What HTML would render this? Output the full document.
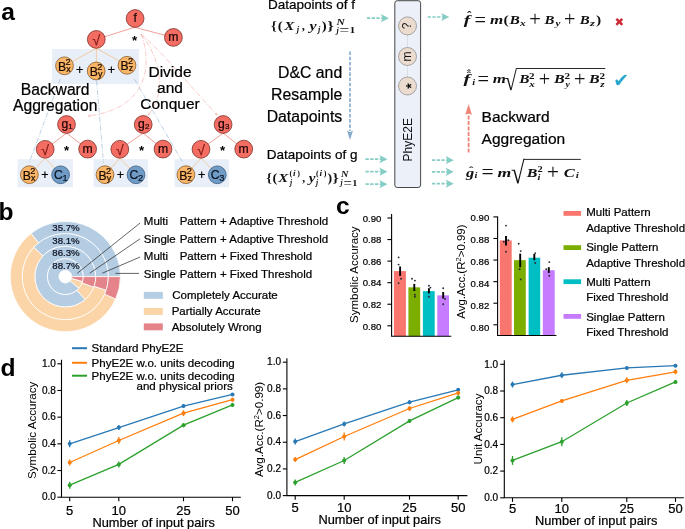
<!DOCTYPE html><html><head><meta charset="utf-8"><title>figure</title><style>html,body{margin:0;padding:0;background:#fff}svg{display:block}text{stroke-width:0.22px}</style></head><body><svg width="685" height="529" viewBox="0 0 685 529">
<rect width="685" height="529" fill="#fff"/>
<defs>
<marker id="aR" viewBox="0 0 10 10" refX="8" refY="5" markerWidth="5" markerHeight="5" orient="auto"><path d="M0,1 L9,5 L0,9" fill="none" stroke="#f08a7e" stroke-width="1.2"/></marker>
</defs>
<text x="1.3" y="19.7" font-family='"Liberation Sans", sans-serif' font-size="24.6" text-anchor="start" font-weight="bold" font-style="normal" fill="#000" stroke="none" >a</text>
<text x="-1.4" y="220.2" font-family='"Liberation Sans", sans-serif' font-size="24.6" text-anchor="start" font-weight="bold" font-style="normal" fill="#000" stroke="none" >b</text>
<text x="336" y="214.2" font-family='"Liberation Sans", sans-serif' font-size="24.6" text-anchor="start" font-weight="bold" font-style="normal" fill="#000" stroke="none" >c</text>
<text x="0.5" y="376" font-family='"Liberation Sans", sans-serif' font-size="24.6" text-anchor="start" font-weight="bold" font-style="normal" fill="#000" stroke="none" >d</text>
<rect x="52" y="49" width="87" height="35" fill="#e9eff8"/>
<rect x="17.5" y="159.2" width="55.4" height="28" fill="#e9eff8"/>
<rect x="93.5" y="159.2" width="54.5" height="28" fill="#e9eff8"/>
<rect x="174.5" y="159.2" width="54.5" height="28" fill="#e9eff8"/>
<line x1="60.3" y1="79" x2="29" y2="163" stroke="#8fb2d3" stroke-width="0.6" stroke-dasharray="5 1.5 1 1.5"/>
<line x1="96.6" y1="81" x2="103.5" y2="163" stroke="#8fb2d3" stroke-width="0.6" stroke-dasharray="5 1.5 1 1.5"/>
<line x1="134.5" y1="79.2" x2="183" y2="163" stroke="#8fb2d3" stroke-width="0.6" stroke-dasharray="5 1.5 1 1.5"/>
<path d="M141,34 C152,62 150,108 88.5,116" fill="none" stroke="#f3a89f" stroke-width="0.6" stroke-dasharray="5 1.5 1 1.5" marker-end="url(#aR)"/>
<path d="M141,34 C162,60 166,95 148,115" fill="none" stroke="#f3a89f" stroke-width="0.6" stroke-dasharray="5 1.5 1 1.5" marker-end="url(#aR)"/>
<path d="M141,34 C160,50 185,80 217,115" fill="none" stroke="#f3a89f" stroke-width="0.6" stroke-dasharray="5 1.5 1 1.5" marker-end="url(#aR)"/>
<line x1="134.6" y1="27.3" x2="96.3" y2="39.4" stroke="#f08a7e" stroke-width="0.8"/>
<line x1="134.6" y1="27.3" x2="173.4" y2="37.4" stroke="#f08a7e" stroke-width="0.8"/>
<line x1="96.4" y1="48.3" x2="64.5" y2="65.8" stroke="#f3c08c" stroke-width="0.8"/>
<line x1="96.4" y1="48.3" x2="96.2" y2="71" stroke="#f3c08c" stroke-width="0.8"/>
<line x1="96.4" y1="48.3" x2="127" y2="65.3" stroke="#f3c08c" stroke-width="0.8"/>
<line x1="66.5" y1="133.2" x2="45.2" y2="149.3" stroke="#f08a7e" stroke-width="0.8"/>
<line x1="66.5" y1="133.2" x2="87.6" y2="149.1" stroke="#f08a7e" stroke-width="0.8"/>
<line x1="45.2" y1="158.2" x2="29.4" y2="174.7" stroke="#f3c08c" stroke-width="0.8"/>
<line x1="45.2" y1="158.2" x2="60.6" y2="174.8" stroke="#f3c08c" stroke-width="0.8"/>
<line x1="143.2" y1="133.2" x2="119.8" y2="149.3" stroke="#f08a7e" stroke-width="0.8"/>
<line x1="143.2" y1="133.2" x2="163" y2="149.1" stroke="#f08a7e" stroke-width="0.8"/>
<line x1="119.8" y1="158.2" x2="105" y2="174.7" stroke="#f3c08c" stroke-width="0.8"/>
<line x1="119.8" y1="158.2" x2="136" y2="174.8" stroke="#f3c08c" stroke-width="0.8"/>
<line x1="223.1" y1="133.2" x2="201" y2="149.3" stroke="#f08a7e" stroke-width="0.8"/>
<line x1="223.1" y1="133.2" x2="243.7" y2="149.1" stroke="#f08a7e" stroke-width="0.8"/>
<line x1="201" y1="158.2" x2="185.9" y2="174.7" stroke="#f3c08c" stroke-width="0.8"/>
<line x1="201" y1="158.2" x2="217.3" y2="174.8" stroke="#f3c08c" stroke-width="0.8"/>
<circle cx="135.1" cy="18.5" r="8.9" fill="#f46d62" stroke="#6b2019" stroke-width="0.7"/>
<text x="135.1" y="22.3" font-family='"Liberation Sans", sans-serif' font-size="12.2" text-anchor="middle" font-weight="normal" font-style="normal" fill="#1a0505" stroke="#1a0505" >f</text>
<circle cx="96.3" cy="39.4" r="8.9" fill="#f46d62" stroke="#6b2019" stroke-width="0.7"/>
<text x="96.3" y="45.0" font-family='"Liberation Sans", sans-serif' font-size="14" text-anchor="middle" font-weight="normal" font-style="normal" fill="#7a1512" stroke="#7a1512" >√</text>
<circle cx="173.4" cy="37.4" r="8.9" fill="#f46d62" stroke="#6b2019" stroke-width="0.7"/>
<text x="173.4" y="41.199999999999996" font-family='"Liberation Sans", sans-serif' font-size="12.2" text-anchor="middle" font-weight="normal" font-style="normal" fill="#1a0505" stroke="#1a0505" >m</text>
<text x="134.6" y="44.9" font-family='"Liberation Sans", sans-serif' font-size="13.2" text-anchor="middle" font-weight="bold" font-style="normal" fill="#000" stroke="none" >*</text>
<circle cx="64.5" cy="65.8" r="8.9" fill="#f9b668" stroke="#7a4a1a" stroke-width="0.7"/>
<text x="62.0" y="70.8" font-family='"Liberation Sans", sans-serif' font-size="12.2" text-anchor="middle" font-weight="normal" font-style="normal" fill="#1a0a00" stroke="#1a0a00" >B</text>
<text x="68.0" y="64.7" font-family='"Liberation Sans", sans-serif' font-size="9.2" text-anchor="middle" font-weight="normal" font-style="normal" fill="#1a0a00" stroke="#1a0a00" >2</text>
<text x="68.4" y="71.7" font-family='"Liberation Sans", sans-serif' font-size="8.8" text-anchor="middle" font-weight="normal" font-style="normal" fill="#1a0a00" stroke="#1a0a00" >x</text>
<circle cx="96.2" cy="71" r="8.9" fill="#f9b668" stroke="#7a4a1a" stroke-width="0.7"/>
<text x="93.7" y="76.0" font-family='"Liberation Sans", sans-serif' font-size="12.2" text-anchor="middle" font-weight="normal" font-style="normal" fill="#1a0a00" stroke="#1a0a00" >B</text>
<text x="99.7" y="69.9" font-family='"Liberation Sans", sans-serif' font-size="9.2" text-anchor="middle" font-weight="normal" font-style="normal" fill="#1a0a00" stroke="#1a0a00" >2</text>
<text x="100.10000000000001" y="76.9" font-family='"Liberation Sans", sans-serif' font-size="8.8" text-anchor="middle" font-weight="normal" font-style="normal" fill="#1a0a00" stroke="#1a0a00" >y</text>
<circle cx="127" cy="65.3" r="8.9" fill="#f9b668" stroke="#7a4a1a" stroke-width="0.7"/>
<text x="124.5" y="70.3" font-family='"Liberation Sans", sans-serif' font-size="12.2" text-anchor="middle" font-weight="normal" font-style="normal" fill="#1a0a00" stroke="#1a0a00" >B</text>
<text x="130.5" y="64.2" font-family='"Liberation Sans", sans-serif' font-size="9.2" text-anchor="middle" font-weight="normal" font-style="normal" fill="#1a0a00" stroke="#1a0a00" >2</text>
<text x="130.9" y="71.2" font-family='"Liberation Sans", sans-serif' font-size="8.8" text-anchor="middle" font-weight="normal" font-style="normal" fill="#1a0a00" stroke="#1a0a00" >z</text>
<text x="79.6" y="73.9" font-family='"Liberation Sans", sans-serif' font-size="12.5" text-anchor="middle" font-weight="normal" font-style="normal" fill="#000" stroke="#000" >+</text>
<text x="111.5" y="73.9" font-family='"Liberation Sans", sans-serif' font-size="12.5" text-anchor="middle" font-weight="normal" font-style="normal" fill="#000" stroke="#000" >+</text>
<circle cx="66.5" cy="124.5" r="8.9" fill="#f46d62" stroke="#6b2019" stroke-width="0.7"/>
<text x="64.8" y="127.8" font-family='"Liberation Sans", sans-serif' font-size="12.2" text-anchor="middle" font-weight="normal" font-style="normal" fill="#1a0505" stroke="#1a0505" >g</text>
<text x="70.6" y="129.1" font-family='"Liberation Sans", sans-serif' font-size="8" text-anchor="middle" font-weight="normal" font-style="normal" fill="#1a0505" stroke="#1a0505" >1</text>
<circle cx="45.2" cy="149.3" r="8.9" fill="#f46d62" stroke="#6b2019" stroke-width="0.7"/>
<text x="45.2" y="154.9" font-family='"Liberation Sans", sans-serif' font-size="14" text-anchor="middle" font-weight="normal" font-style="normal" fill="#7a1512" stroke="#7a1512" >√</text>
<circle cx="87.6" cy="149.1" r="8.9" fill="#f46d62" stroke="#6b2019" stroke-width="0.7"/>
<text x="87.6" y="152.9" font-family='"Liberation Sans", sans-serif' font-size="12.2" text-anchor="middle" font-weight="normal" font-style="normal" fill="#1a0505" stroke="#1a0505" >m</text>
<text x="66.60000000000001" y="155.4" font-family='"Liberation Sans", sans-serif' font-size="13.2" text-anchor="middle" font-weight="bold" font-style="normal" fill="#000" stroke="none" >*</text>
<circle cx="29.4" cy="174.7" r="8.9" fill="#f9b668" stroke="#7a4a1a" stroke-width="0.7"/>
<text x="26.9" y="179.7" font-family='"Liberation Sans", sans-serif' font-size="12.2" text-anchor="middle" font-weight="normal" font-style="normal" fill="#1a0a00" stroke="#1a0a00" >B</text>
<text x="32.9" y="173.6" font-family='"Liberation Sans", sans-serif' font-size="9.2" text-anchor="middle" font-weight="normal" font-style="normal" fill="#1a0a00" stroke="#1a0a00" >2</text>
<text x="33.3" y="180.6" font-family='"Liberation Sans", sans-serif' font-size="8.8" text-anchor="middle" font-weight="normal" font-style="normal" fill="#1a0a00" stroke="#1a0a00" >x</text>
<circle cx="60.6" cy="174.8" r="8.9" fill="#6f9bc4" stroke="#2c4f73" stroke-width="0.7"/>
<text x="58.4" y="178.9" font-family='"Liberation Sans", sans-serif' font-size="12.2" text-anchor="middle" font-weight="normal" font-style="normal" fill="#0a1525" stroke="#0a1525" >C</text>
<text x="65.2" y="181.10000000000002" font-family='"Liberation Sans", sans-serif' font-size="9.3" text-anchor="middle" font-weight="normal" font-style="normal" fill="#0a1525" stroke="#0a1525" >1</text>
<text x="45.0" y="179" font-family='"Liberation Sans", sans-serif' font-size="12.5" text-anchor="middle" font-weight="normal" font-style="normal" fill="#000" stroke="#000" >+</text>
<circle cx="143.2" cy="124.5" r="8.9" fill="#f46d62" stroke="#6b2019" stroke-width="0.7"/>
<text x="141.5" y="127.8" font-family='"Liberation Sans", sans-serif' font-size="12.2" text-anchor="middle" font-weight="normal" font-style="normal" fill="#1a0505" stroke="#1a0505" >g</text>
<text x="147.29999999999998" y="129.1" font-family='"Liberation Sans", sans-serif' font-size="8" text-anchor="middle" font-weight="normal" font-style="normal" fill="#1a0505" stroke="#1a0505" >2</text>
<circle cx="119.8" cy="149.3" r="8.9" fill="#f46d62" stroke="#6b2019" stroke-width="0.7"/>
<text x="119.8" y="154.9" font-family='"Liberation Sans", sans-serif' font-size="14" text-anchor="middle" font-weight="normal" font-style="normal" fill="#7a1512" stroke="#7a1512" >√</text>
<circle cx="163" cy="149.1" r="8.9" fill="#f46d62" stroke="#6b2019" stroke-width="0.7"/>
<text x="163" y="152.9" font-family='"Liberation Sans", sans-serif' font-size="12.2" text-anchor="middle" font-weight="normal" font-style="normal" fill="#1a0505" stroke="#1a0505" >m</text>
<text x="141.6" y="155.4" font-family='"Liberation Sans", sans-serif' font-size="13.2" text-anchor="middle" font-weight="bold" font-style="normal" fill="#000" stroke="none" >*</text>
<circle cx="105" cy="174.7" r="8.9" fill="#f9b668" stroke="#7a4a1a" stroke-width="0.7"/>
<text x="102.5" y="179.7" font-family='"Liberation Sans", sans-serif' font-size="12.2" text-anchor="middle" font-weight="normal" font-style="normal" fill="#1a0a00" stroke="#1a0a00" >B</text>
<text x="108.5" y="173.6" font-family='"Liberation Sans", sans-serif' font-size="9.2" text-anchor="middle" font-weight="normal" font-style="normal" fill="#1a0a00" stroke="#1a0a00" >2</text>
<text x="108.9" y="180.6" font-family='"Liberation Sans", sans-serif' font-size="8.8" text-anchor="middle" font-weight="normal" font-style="normal" fill="#1a0a00" stroke="#1a0a00" >y</text>
<circle cx="136" cy="174.8" r="8.9" fill="#6f9bc4" stroke="#2c4f73" stroke-width="0.7"/>
<text x="133.8" y="178.9" font-family='"Liberation Sans", sans-serif' font-size="12.2" text-anchor="middle" font-weight="normal" font-style="normal" fill="#0a1525" stroke="#0a1525" >C</text>
<text x="140.6" y="181.10000000000002" font-family='"Liberation Sans", sans-serif' font-size="9.3" text-anchor="middle" font-weight="normal" font-style="normal" fill="#0a1525" stroke="#0a1525" >2</text>
<text x="120.5" y="179" font-family='"Liberation Sans", sans-serif' font-size="12.5" text-anchor="middle" font-weight="normal" font-style="normal" fill="#000" stroke="#000" >+</text>
<circle cx="223.1" cy="124.5" r="8.9" fill="#f46d62" stroke="#6b2019" stroke-width="0.7"/>
<text x="221.4" y="127.8" font-family='"Liberation Sans", sans-serif' font-size="12.2" text-anchor="middle" font-weight="normal" font-style="normal" fill="#1a0505" stroke="#1a0505" >g</text>
<text x="227.2" y="129.1" font-family='"Liberation Sans", sans-serif' font-size="8" text-anchor="middle" font-weight="normal" font-style="normal" fill="#1a0505" stroke="#1a0505" >3</text>
<circle cx="201" cy="149.3" r="8.9" fill="#f46d62" stroke="#6b2019" stroke-width="0.7"/>
<text x="201" y="154.9" font-family='"Liberation Sans", sans-serif' font-size="14" text-anchor="middle" font-weight="normal" font-style="normal" fill="#7a1512" stroke="#7a1512" >√</text>
<circle cx="243.7" cy="149.1" r="8.9" fill="#f46d62" stroke="#6b2019" stroke-width="0.7"/>
<text x="243.7" y="152.9" font-family='"Liberation Sans", sans-serif' font-size="12.2" text-anchor="middle" font-weight="normal" font-style="normal" fill="#1a0505" stroke="#1a0505" >m</text>
<text x="222.54999999999998" y="155.4" font-family='"Liberation Sans", sans-serif' font-size="13.2" text-anchor="middle" font-weight="bold" font-style="normal" fill="#000" stroke="none" >*</text>
<circle cx="185.9" cy="174.7" r="8.9" fill="#f9b668" stroke="#7a4a1a" stroke-width="0.7"/>
<text x="183.4" y="179.7" font-family='"Liberation Sans", sans-serif' font-size="12.2" text-anchor="middle" font-weight="normal" font-style="normal" fill="#1a0a00" stroke="#1a0a00" >B</text>
<text x="189.4" y="173.6" font-family='"Liberation Sans", sans-serif' font-size="9.2" text-anchor="middle" font-weight="normal" font-style="normal" fill="#1a0a00" stroke="#1a0a00" >2</text>
<text x="189.8" y="180.6" font-family='"Liberation Sans", sans-serif' font-size="8.8" text-anchor="middle" font-weight="normal" font-style="normal" fill="#1a0a00" stroke="#1a0a00" >z</text>
<circle cx="217.3" cy="174.8" r="8.9" fill="#6f9bc4" stroke="#2c4f73" stroke-width="0.7"/>
<text x="215.10000000000002" y="178.9" font-family='"Liberation Sans", sans-serif' font-size="12.2" text-anchor="middle" font-weight="normal" font-style="normal" fill="#0a1525" stroke="#0a1525" >C</text>
<text x="221.9" y="181.10000000000002" font-family='"Liberation Sans", sans-serif' font-size="9.3" text-anchor="middle" font-weight="normal" font-style="normal" fill="#0a1525" stroke="#0a1525" >3</text>
<text x="201.60000000000002" y="179" font-family='"Liberation Sans", sans-serif' font-size="12.5" text-anchor="middle" font-weight="normal" font-style="normal" fill="#000" stroke="#000" >+</text>
<text x="55.2" y="95" font-family='"Liberation Sans", sans-serif' font-size="15.65" text-anchor="middle" font-weight="normal" font-style="normal" fill="#000" stroke="#000" >Backward</text>
<text x="55.2" y="110.8" font-family='"Liberation Sans", sans-serif' font-size="15.65" text-anchor="middle" font-weight="normal" font-style="normal" fill="#000" stroke="#000" >Aggregation</text>
<text x="170" y="76.7" font-family='"Liberation Sans", sans-serif' font-size="15.5" text-anchor="middle" font-weight="normal" font-style="normal" fill="#000" stroke="#000" >Divide</text>
<text x="170" y="92.7" font-family='"Liberation Sans", sans-serif' font-size="15.5" text-anchor="middle" font-weight="normal" font-style="normal" fill="#000" stroke="#000" >and</text>
<text x="170" y="108.8" font-family='"Liberation Sans", sans-serif' font-size="15.5" text-anchor="middle" font-weight="normal" font-style="normal" fill="#000" stroke="#000" >Conquer</text>
<text x="268" y="9.3" font-family='"Liberation Sans", sans-serif' font-size="13.5" text-anchor="start" font-weight="normal" font-style="normal" fill="#000" stroke="#000" >Datapoints of f</text>
<text x="342.2" y="78.3" font-family='"Liberation Sans", sans-serif' font-size="15.8" text-anchor="end" font-weight="normal" font-style="normal" fill="#000" stroke="#000" >D&amp;C and</text>
<text x="342.2" y="99.8" font-family='"Liberation Sans", sans-serif' font-size="15.8" text-anchor="end" font-weight="normal" font-style="normal" fill="#000" stroke="#000" >Resample</text>
<text x="342.2" y="121.9" font-family='"Liberation Sans", sans-serif' font-size="15.8" text-anchor="end" font-weight="normal" font-style="normal" fill="#000" stroke="#000" >Datapoints</text>
<text x="266.8" y="159" font-family='"Liberation Sans", sans-serif' font-size="13.5" text-anchor="start" font-weight="normal" font-style="normal" fill="#000" stroke="#000" >Datapoints of g</text>
<text transform="translate(271.03,29.7) scale(1.120,1.0)" font-family='"Liberation Serif", serif' font-size="13" font-weight="bold" font-style="normal" fill="#111">{</text>
<text transform="translate(277.75,29.7) scale(1.138,1.0)" font-family='"Liberation Serif", serif' font-size="13" font-weight="bold" font-style="normal" fill="#111">(</text>
<text transform="translate(284.28,29.7) scale(1.165,1.0)" font-family='"Liberation Serif", serif' font-size="13" font-weight="bold" font-style="italic" fill="#111">X</text>
<text transform="translate(296.71,31.6) scale(1.000,1.0)" font-family='"Liberation Serif", serif' font-size="8.5" font-weight="bold" font-style="italic" fill="#111">j</text>
<text transform="translate(301.83,29.7) scale(0.968,1.0)" font-family='"Liberation Serif", serif' font-size="13" font-weight="bold" font-style="normal" fill="#111">,</text>
<text transform="translate(309.59,29.7) scale(1.224,1.0)" font-family='"Liberation Serif", serif' font-size="13" font-weight="bold" font-style="italic" fill="#111">y</text>
<text transform="translate(318.01,31.6) scale(1.000,1.0)" font-family='"Liberation Serif", serif' font-size="8.5" font-weight="bold" font-style="italic" fill="#111">j</text>
<text transform="translate(321.72,29.7) scale(1.138,1.0)" font-family='"Liberation Serif", serif' font-size="13" font-weight="bold" font-style="normal" fill="#111">)</text>
<text transform="translate(327.25,29.7) scale(1.287,1.0)" font-family='"Liberation Serif", serif' font-size="13" font-weight="bold" font-style="normal" fill="#111">}</text>
<text transform="translate(336.61,24.6) scale(1.345,1.0)" font-family='"Liberation Serif", serif' font-size="8.5" font-weight="bold" font-style="italic" fill="#111">N</text>
<text transform="translate(336.38,32.8) scale(0.972,1.0)" font-family='"Liberation Serif", serif' font-size="8.5" font-weight="bold" font-style="italic" fill="#111">j</text>
<text transform="translate(339.44,35.4) scale(1.228,1.0)" font-family='"Liberation Serif", serif' font-size="14" font-weight="normal" font-style="normal" fill="#111">=</text>
<text transform="translate(349.46,33.2) scale(1.374,1.0)" font-family='"Liberation Serif", serif' font-size="8.5" font-weight="bold" font-style="normal" fill="#111">1</text>
<text transform="translate(266.14,182.4) scale(1.096,1.0)" font-family='"Liberation Serif", serif' font-size="13" font-weight="bold" font-style="normal" fill="#111">{</text>
<text transform="translate(272.47,182.4) scale(1.108,1.0)" font-family='"Liberation Serif", serif' font-size="13" font-weight="bold" font-style="normal" fill="#111">(</text>
<text transform="translate(278.18,182.4) scale(1.155,1.0)" font-family='"Liberation Serif", serif' font-size="13" font-weight="bold" font-style="italic" fill="#111">X</text>
<text transform="translate(289.54,175.6) scale(1.090,1.0)" font-family='"Liberation Serif", serif' font-size="7.5" font-weight="bold" font-style="normal" fill="#111">(</text>
<text transform="translate(293.06,175.6) scale(1.236,1.0)" font-family='"Liberation Serif", serif' font-size="7.5" font-weight="bold" font-style="italic" fill="#111">i</text>
<text transform="translate(297.14,175.6) scale(1.090,1.0)" font-family='"Liberation Serif", serif' font-size="7.5" font-weight="bold" font-style="normal" fill="#111">)</text>
<text transform="translate(289.92,185.2) scale(0.915,1.0)" font-family='"Liberation Serif", serif' font-size="8.5" font-weight="bold" font-style="italic" fill="#111">j</text>
<text transform="translate(302.15,182.4) scale(0.890,1.0)" font-family='"Liberation Serif", serif' font-size="13" font-weight="bold" font-style="normal" fill="#111">,</text>
<text transform="translate(308.72,182.4) scale(1.167,1.0)" font-family='"Liberation Serif", serif' font-size="13" font-weight="bold" font-style="italic" fill="#111">y</text>
<text transform="translate(316.04,175.6) scale(1.090,1.0)" font-family='"Liberation Serif", serif' font-size="7.5" font-weight="bold" font-style="normal" fill="#111">(</text>
<text transform="translate(319.56,175.6) scale(1.236,1.0)" font-family='"Liberation Serif", serif' font-size="7.5" font-weight="bold" font-style="italic" fill="#111">i</text>
<text transform="translate(323.64,175.6) scale(1.090,1.0)" font-family='"Liberation Serif", serif' font-size="7.5" font-weight="bold" font-style="normal" fill="#111">)</text>
<text transform="translate(316.02,185.2) scale(0.915,1.0)" font-family='"Liberation Serif", serif' font-size="8.5" font-weight="bold" font-style="italic" fill="#111">j</text>
<text transform="translate(327.45,182.4) scale(1.078,1.0)" font-family='"Liberation Serif", serif' font-size="13" font-weight="bold" font-style="normal" fill="#111">)</text>
<text transform="translate(332.38,182.4) scale(1.216,1.0)" font-family='"Liberation Serif", serif' font-size="13" font-weight="bold" font-style="normal" fill="#111">}</text>
<text transform="translate(341.10,176.6) scale(1.205,1.0)" font-family='"Liberation Serif", serif' font-size="8.5" font-weight="bold" font-style="italic" fill="#111">N</text>
<text transform="translate(340.62,185.4) scale(0.915,1.0)" font-family='"Liberation Serif", serif' font-size="8.5" font-weight="bold" font-style="italic" fill="#111">j</text>
<text transform="translate(343.56,188.1) scale(1.059,1.0)" font-family='"Liberation Serif", serif' font-size="14" font-weight="normal" font-style="normal" fill="#111">=</text>
<text transform="translate(352.17,185.8) scale(1.214,1.0)" font-family='"Liberation Serif", serif' font-size="8.5" font-weight="bold" font-style="normal" fill="#111">1</text>
<line x1="367" y1="18.2" x2="383.4" y2="18.2" stroke="#86cdc5" stroke-width="1.7" stroke-dasharray="3.3 1.4"/>
<path d="M380.79999999999995,14.1 L388.9,18.2 L380.79999999999995,22.299999999999997 L382.59999999999997,18.2 Z" fill="#86cdc5"/>
<line x1="365.5" y1="159.2" x2="382.0" y2="159.2" stroke="#86cdc5" stroke-width="1.7" stroke-dasharray="3.3 1.4"/>
<path d="M379.4,155.1 L387.5,159.2 L379.4,163.29999999999998 L381.2,159.2 Z" fill="#86cdc5"/>
<line x1="365.5" y1="171.7" x2="382.0" y2="171.7" stroke="#86cdc5" stroke-width="1.7" stroke-dasharray="3.3 1.4"/>
<path d="M379.4,167.6 L387.5,171.7 L379.4,175.79999999999998 L381.2,171.7 Z" fill="#86cdc5"/>
<line x1="365.5" y1="184.2" x2="382.0" y2="184.2" stroke="#86cdc5" stroke-width="1.7" stroke-dasharray="3.3 1.4"/>
<path d="M379.4,180.1 L387.5,184.2 L379.4,188.29999999999998 L381.2,184.2 Z" fill="#86cdc5"/>
<line x1="427.7" y1="17" x2="443.8" y2="17" stroke="#86cdc5" stroke-width="1.7" stroke-dasharray="3.3 1.4"/>
<path d="M441.2,12.9 L449.3,17 L441.2,21.1 L443.0,17 Z" fill="#86cdc5"/>
<line x1="432" y1="160.2" x2="448.3" y2="160.2" stroke="#86cdc5" stroke-width="1.7" stroke-dasharray="3.3 1.4"/>
<path d="M445.7,156.1 L453.8,160.2 L445.7,164.29999999999998 L447.5,160.2 Z" fill="#86cdc5"/>
<line x1="432" y1="171.8" x2="448.3" y2="171.8" stroke="#86cdc5" stroke-width="1.7" stroke-dasharray="3.3 1.4"/>
<path d="M445.7,167.70000000000002 L453.8,171.8 L445.7,175.9 L447.5,171.8 Z" fill="#86cdc5"/>
<line x1="432" y1="183.7" x2="448.3" y2="183.7" stroke="#86cdc5" stroke-width="1.7" stroke-dasharray="3.3 1.4"/>
<path d="M445.7,179.6 L453.8,183.7 L445.7,187.79999999999998 L447.5,183.7 Z" fill="#86cdc5"/>
<line x1="350" y1="51.5" x2="350" y2="131" stroke="#84a9cd" stroke-width="1.6" stroke-dasharray="3.6 1.6"/>
<path d="M347,130.5 L350,140 L353,130.5 L350,132.3 Z" fill="#84a9cd"/>
<rect x="394.8" y="0.7" width="25.8" height="186.8" rx="2.5" fill="#ebf0f9" stroke="#333" stroke-width="0.9"/>
<line x1="407.5" y1="26" x2="407.5" y2="86" stroke="#ccc" stroke-width="0.5"/>
<circle cx="407.5" cy="25.9" r="9" fill="#ecdcd0" stroke="#777" stroke-width="0.6"/>
<text transform="translate(410.7,25.9) rotate(-90)" font-family='"Liberation Sans", sans-serif' font-size="12" font-weight="normal" text-anchor="middle" fill="#111">?</text>
<circle cx="407.5" cy="56.5" r="9" fill="#ecdcd0" stroke="#777" stroke-width="0.6"/>
<text transform="translate(410.7,56.5) rotate(-90)" font-family='"Liberation Sans", sans-serif' font-size="12" font-weight="normal" text-anchor="middle" fill="#111">m</text>
<circle cx="407.5" cy="86" r="9" fill="#ecdcd0" stroke="#777" stroke-width="0.6"/>
<text transform="translate(415.5,86) rotate(-90)" font-family='"Liberation Sans", sans-serif' font-size="14" font-weight="bold" text-anchor="middle" fill="#111">*</text>
<text transform="translate(411.7,139.8) rotate(-90)" font-family='"Liberation Sans", sans-serif' font-size="12" text-anchor="middle" fill="#111">PhyE2E</text>
<text transform="translate(463.80,24) scale(1.498,1.0)" font-family='"Liberation Serif", serif' font-size="13" font-weight="bold" font-style="italic" fill="#111">f</text>
<text transform="translate(467.19,20) scale(1.053,1.0)" font-family='"Liberation Serif", serif' font-size="12" font-weight="bold" font-style="normal" fill="#111">ˆ</text>
<text transform="translate(474.48,26.5) scale(1.021,1.0)" font-family='"Liberation Serif", serif' font-size="20" font-weight="normal" font-style="normal" fill="#111">=</text>
<text transform="translate(490.08,24) scale(1.309,1.0)" font-family='"Liberation Serif", serif' font-size="13" font-weight="bold" font-style="italic" fill="#111">m</text>
<text transform="translate(503.52,24) scale(1.198,1.0)" font-family='"Liberation Serif", serif' font-size="13" font-weight="bold" font-style="normal" fill="#111">(</text>
<text transform="translate(509.54,24) scale(1.191,1.0)" font-family='"Liberation Serif", serif' font-size="13" font-weight="bold" font-style="italic" fill="#111">B</text>
<text transform="translate(519.94,25.8) scale(1.351,1.0)" font-family='"Liberation Serif", serif' font-size="8.5" font-weight="bold" font-style="italic" fill="#111">x</text>
<text transform="translate(529.28,26.2) scale(1.021,1.0)" font-family='"Liberation Serif", serif' font-size="20" font-weight="normal" font-style="normal" fill="#111">+</text>
<text transform="translate(544.44,24) scale(1.143,1.0)" font-family='"Liberation Serif", serif' font-size="13" font-weight="bold" font-style="italic" fill="#111">B</text>
<text transform="translate(555.60,25.8) scale(1.291,1.0)" font-family='"Liberation Serif", serif' font-size="8.5" font-weight="bold" font-style="italic" fill="#111">y</text>
<text transform="translate(563.99,26.2) scale(1.010,1.0)" font-family='"Liberation Serif", serif' font-size="20" font-weight="normal" font-style="normal" fill="#111">+</text>
<text transform="translate(579.64,24) scale(1.143,1.0)" font-family='"Liberation Serif", serif' font-size="13" font-weight="bold" font-style="italic" fill="#111">B</text>
<text transform="translate(590.06,25.8) scale(1.479,1.0)" font-family='"Liberation Serif", serif' font-size="8.5" font-weight="bold" font-style="italic" fill="#111">z</text>
<text transform="translate(596.00,24) scale(1.198,1.0)" font-family='"Liberation Serif", serif' font-size="13" font-weight="bold" font-style="normal" fill="#111">)</text>
<text x="619.3" y="26.3" font-family='"DejaVu Sans", sans-serif' font-size="11.5" text-anchor="middle" font-weight="normal" font-style="normal" fill="#cf2a35" stroke="none" >✖</text>
<text transform="translate(463.50,83.4) scale(1.553,1.0)" font-family='"Liberation Serif", serif' font-size="13" font-weight="bold" font-style="italic" fill="#111">f</text>
<text transform="translate(466.79,76.6) scale(1.149,1.0)" font-family='"Liberation Serif", serif' font-size="11" font-weight="bold" font-style="normal" fill="#111">ˆ</text>
<text transform="translate(466.79,78.9) scale(1.149,1.0)" font-family='"Liberation Serif", serif' font-size="11" font-weight="bold" font-style="normal" fill="#111">ˆ</text>
<text transform="translate(472.33,85.2) scale(1.233,1.0)" font-family='"Liberation Serif", serif' font-size="8.5" font-weight="bold" font-style="italic" fill="#111">i</text>
<text transform="translate(477.38,85.9) scale(1.021,1.0)" font-family='"Liberation Serif", serif' font-size="20" font-weight="normal" font-style="normal" fill="#111">=</text>
<text transform="translate(492.68,83.4) scale(1.298,1.0)" font-family='"Liberation Serif", serif' font-size="13" font-weight="bold" font-style="italic" fill="#111">m</text>
<text transform="translate(504.85,89.71) scale(1.109,1.372)" font-family='"Liberation Serif", serif' font-size="20" font-weight="normal" fill="#111">√</text>
<line x1="516.4" y1="68.5" x2="605.3" y2="68.5" stroke="#111" stroke-width="0.9"/>
<text transform="translate(519.14,83.4) scale(1.179,1.0)" font-family='"Liberation Serif", serif' font-size="13" font-weight="bold" font-style="italic" fill="#111">B</text>
<text transform="translate(528.93,79.4) scale(1.385,1.0)" font-family='"Liberation Serif", serif' font-size="8" font-weight="bold" font-style="normal" fill="#111">2</text>
<text transform="translate(529.34,87) scale(1.302,1.0)" font-family='"Liberation Serif", serif' font-size="8.5" font-weight="bold" font-style="italic" fill="#111">x</text>
<text transform="translate(538.79,85.60000000000001) scale(1.010,1.0)" font-family='"Liberation Serif", serif' font-size="20" font-weight="normal" font-style="normal" fill="#111">+</text>
<text transform="translate(554.05,83.4) scale(1.228,1.0)" font-family='"Liberation Serif", serif' font-size="13" font-weight="bold" font-style="italic" fill="#111">B</text>
<text transform="translate(564.53,79.4) scale(1.385,1.0)" font-family='"Liberation Serif", serif' font-size="8" font-weight="bold" font-style="normal" fill="#111">2</text>
<text transform="translate(565.57,86.6) scale(1.140,1.0)" font-family='"Liberation Serif", serif' font-size="8.5" font-weight="bold" font-style="italic" fill="#111">y</text>
<text transform="translate(573.98,85.60000000000001) scale(1.021,1.0)" font-family='"Liberation Serif", serif' font-size="20" font-weight="normal" font-style="normal" fill="#111">+</text>
<text transform="translate(589.05,83.4) scale(1.228,1.0)" font-family='"Liberation Serif", serif' font-size="13" font-weight="bold" font-style="italic" fill="#111">B</text>
<text transform="translate(599.43,79.4) scale(1.385,1.0)" font-family='"Liberation Serif", serif' font-size="8" font-weight="bold" font-style="normal" fill="#111">2</text>
<text transform="translate(600.21,87) scale(1.309,1.0)" font-family='"Liberation Serif", serif' font-size="8.5" font-weight="bold" font-style="italic" fill="#111">z</text>
<text x="621.2" y="86.5" font-family='"DejaVu Sans", sans-serif' font-size="19" text-anchor="middle" font-weight="normal" font-style="normal" fill="#2aa7cc" stroke="none" >✔</text>
<line x1="468.6" y1="152.6" x2="468.6" y2="113" stroke="#f08575" stroke-width="1.8" stroke-dasharray="4 1.5"/>
<path d="M465.2,115 L468.6,104 L472,115 L468.6,113 Z" fill="#f08575"/>
<text x="481.6" y="121.9" font-family='"Liberation Sans", sans-serif' font-size="15.5" text-anchor="start" font-weight="normal" font-style="normal" fill="#000" stroke="#000" >Backward</text>
<text x="481.6" y="143.5" font-family='"Liberation Sans", sans-serif' font-size="15.5" text-anchor="start" font-weight="normal" font-style="normal" fill="#000" stroke="#000" >Aggregation</text>
<text transform="translate(466.11,176.5) scale(1.266,1.0)" font-family='"Liberation Serif", serif' font-size="13" font-weight="bold" font-style="italic" fill="#111">g</text>
<text transform="translate(469.09,174.4) scale(1.178,1.0)" font-family='"Liberation Serif", serif' font-size="11" font-weight="bold" font-style="normal" fill="#111">ˆ</text>
<text transform="translate(474.53,178.3) scale(1.233,1.0)" font-family='"Liberation Serif", serif' font-size="8.5" font-weight="bold" font-style="italic" fill="#111">i</text>
<text transform="translate(481.43,179.0) scale(1.075,1.0)" font-family='"Liberation Serif", serif' font-size="20" font-weight="normal" font-style="normal" fill="#111">=</text>
<text transform="translate(497.56,176.5) scale(1.363,1.0)" font-family='"Liberation Serif", serif' font-size="13" font-weight="bold" font-style="italic" fill="#111">m</text>
<text transform="translate(510.89,183.49) scale(1.233,1.554)" font-family='"Liberation Serif", serif' font-size="20" font-weight="normal" fill="#111">√</text>
<line x1="523.8" y1="159.4" x2="580.8" y2="159.4" stroke="#111" stroke-width="0.9"/>
<text transform="translate(526.65,176.5) scale(1.228,1.0)" font-family='"Liberation Serif", serif' font-size="13" font-weight="bold" font-style="italic" fill="#111">B</text>
<text transform="translate(537.46,172.2) scale(1.295,1.0)" font-family='"Liberation Serif", serif' font-size="8" font-weight="bold" font-style="normal" fill="#111">2</text>
<text transform="translate(537.43,180.2) scale(1.233,1.0)" font-family='"Liberation Serif", serif' font-size="8.5" font-weight="bold" font-style="italic" fill="#111">i</text>
<text transform="translate(546.81,178.7) scale(1.096,1.0)" font-family='"Liberation Serif", serif' font-size="20" font-weight="normal" font-style="normal" fill="#111">+</text>
<text transform="translate(563.74,176.5) scale(1.270,1.0)" font-family='"Liberation Serif", serif' font-size="13" font-weight="bold" font-style="italic" fill="#111">C</text>
<text transform="translate(575.81,178.3) scale(1.328,1.0)" font-family='"Liberation Serif", serif' font-size="8.5" font-weight="bold" font-style="italic" fill="#111">i</text>
<path d="M83.30,276.60 A18,18 0 1 0 78.95,288.34 L70.15,280.77 A6.4,6.4 0 1 1 71.70,276.60 Z" fill="#b5cde3" stroke="#fff" stroke-width="0.8"/>
<path d="M78.95,288.34 A18,18 0 0 0 82.60,281.56 L71.45,278.36 A6.4,6.4 0 0 1 70.15,280.77 Z" fill="#fbd4a7" stroke="#fff" stroke-width="0.8"/>
<path d="M82.60,281.56 A18,18 0 0 0 83.30,276.60 L71.70,276.60 A6.4,6.4 0 0 1 71.45,278.36 Z" fill="#e4848a" stroke="#fff" stroke-width="0.8"/>
<path d="M95.80,276.60 A30.5,30.5 0 1 0 85.19,299.72 L77.04,290.25 A18,18 0 1 1 83.30,276.60 Z" fill="#b5cde3" stroke="#fff" stroke-width="0.8"/>
<path d="M85.19,299.72 A30.5,30.5 0 0 0 93.89,287.23 L82.17,282.87 A18,18 0 0 1 77.04,290.25 Z" fill="#fbd4a7" stroke="#fff" stroke-width="0.8"/>
<path d="M93.89,287.23 A30.5,30.5 0 0 0 95.80,276.60 L83.30,276.60 A18,18 0 0 1 82.17,282.87 Z" fill="#e4848a" stroke="#fff" stroke-width="0.8"/>
<path d="M108.40,276.60 A43.1,43.1 0 0 0 33.68,247.32 L42.92,255.88 A30.5,30.5 0 0 1 95.80,276.60 Z" fill="#b5cde3" stroke="#fff" stroke-width="0.8"/>
<path d="M33.68,247.32 A43.1,43.1 0 1 0 106.17,290.28 L94.22,286.28 A30.5,30.5 0 1 1 42.92,255.88 Z" fill="#fbd4a7" stroke="#fff" stroke-width="0.8"/>
<path d="M106.17,290.28 A43.1,43.1 0 0 0 108.40,276.60 L95.80,276.60 A30.5,30.5 0 0 1 94.22,286.28 Z" fill="#e4848a" stroke="#fff" stroke-width="0.8"/>
<path d="M120.40,276.60 A55.1,55.1 0 0 0 31.00,233.48 L38.47,242.87 A43.1,43.1 0 0 1 108.40,276.60 Z" fill="#b5cde3" stroke="#fff" stroke-width="0.8"/>
<path d="M31.00,233.48 A55.1,55.1 0 1 0 115.64,299.01 L104.67,294.13 A43.1,43.1 0 1 1 38.47,242.87 Z" fill="#fbd4a7" stroke="#fff" stroke-width="0.8"/>
<path d="M115.64,299.01 A55.1,55.1 0 0 0 120.40,276.60 L108.40,276.60 A43.1,43.1 0 0 1 104.67,294.13 Z" fill="#e4848a" stroke="#fff" stroke-width="0.8"/>
<text x="66" y="231.1" font-family='"Liberation Sans", sans-serif' font-size="9.7" text-anchor="middle" font-weight="normal" font-style="normal" fill="#0c1020" stroke="#0c1020" >35.7%</text>
<text x="66" y="243.7" font-family='"Liberation Sans", sans-serif' font-size="9.7" text-anchor="middle" font-weight="normal" font-style="normal" fill="#0c1020" stroke="#0c1020" >38.1%</text>
<text x="66" y="256.4" font-family='"Liberation Sans", sans-serif' font-size="9.7" text-anchor="middle" font-weight="normal" font-style="normal" fill="#0c1020" stroke="#0c1020" >86.3%</text>
<text x="66" y="269" font-family='"Liberation Sans", sans-serif' font-size="9.7" text-anchor="middle" font-weight="normal" font-style="normal" fill="#0c1020" stroke="#0c1020" >88.7%</text>
<line x1="77.1" y1="273.4" x2="140.1" y2="223" stroke="#222" stroke-width="0.7"/>
<line x1="89.8" y1="273.2" x2="140.1" y2="238.8" stroke="#222" stroke-width="0.7"/>
<line x1="102.3" y1="273.2" x2="140.1" y2="257" stroke="#222" stroke-width="0.7"/>
<line x1="115.4" y1="273.4" x2="139" y2="273.4" stroke="#222" stroke-width="0.7"/>
<text x="143.8" y="224.7" font-family='"Liberation Sans", sans-serif' font-size="11.5" text-anchor="start" font-weight="normal" font-style="normal" fill="#000" stroke="#000" >Multi</text>
<text x="179.7" y="224.7" font-family='"Liberation Sans", sans-serif' font-size="11.5" text-anchor="start" font-weight="normal" font-style="normal" fill="#000" stroke="#000" >Pattern + Adaptive Threshold</text>
<text x="143.8" y="242.6" font-family='"Liberation Sans", sans-serif' font-size="11.5" text-anchor="start" font-weight="normal" font-style="normal" fill="#000" stroke="#000" >Single</text>
<text x="179.7" y="242.6" font-family='"Liberation Sans", sans-serif' font-size="11.5" text-anchor="start" font-weight="normal" font-style="normal" fill="#000" stroke="#000" >Pattern + Adaptive Threshold</text>
<text x="143.8" y="260" font-family='"Liberation Sans", sans-serif' font-size="11.5" text-anchor="start" font-weight="normal" font-style="normal" fill="#000" stroke="#000" >Multi</text>
<text x="179.7" y="260" font-family='"Liberation Sans", sans-serif' font-size="11.5" text-anchor="start" font-weight="normal" font-style="normal" fill="#000" stroke="#000" >Pattern + Fixed Threshold</text>
<text x="143.8" y="278" font-family='"Liberation Sans", sans-serif' font-size="11.5" text-anchor="start" font-weight="normal" font-style="normal" fill="#000" stroke="#000" >Single</text>
<text x="179.7" y="278" font-family='"Liberation Sans", sans-serif' font-size="11.5" text-anchor="start" font-weight="normal" font-style="normal" fill="#000" stroke="#000" >Pattern + Fixed Threshold</text>
<rect x="143.8" y="291.9" width="19" height="6.9" fill="#b5cde3"/>
<text x="172.3" y="299.29999999999995" font-family='"Liberation Sans", sans-serif' font-size="11.5" text-anchor="start" font-weight="normal" font-style="normal" fill="#000" stroke="#000" >Completely Accurate</text>
<rect x="143.8" y="308" width="19" height="6.9" fill="#fbd4a7"/>
<text x="171.7" y="315.4" font-family='"Liberation Sans", sans-serif' font-size="11.5" text-anchor="start" font-weight="normal" font-style="normal" fill="#000" stroke="#000" >Partially Accurate</text>
<rect x="143.8" y="323.4" width="19" height="6.9" fill="#e4848a"/>
<text x="171.7" y="330.79999999999995" font-family='"Liberation Sans", sans-serif' font-size="11.5" text-anchor="start" font-weight="normal" font-style="normal" fill="#000" stroke="#000" >Absolutely Wrong</text>
<rect x="393.9" y="271.09" width="12.00" height="65.21" fill="#f8766d"/>
<rect x="408.4" y="287.34" width="11.80" height="48.96" fill="#7cae00"/>
<rect x="422.9" y="291.13" width="11.80" height="45.17" fill="#00bfc4"/>
<rect x="437.3" y="295.35" width="11.70" height="40.95" fill="#c77cff"/>
<line x1="400.1" y1="266.5" x2="400.1" y2="275.9" stroke="#000" stroke-width="1.9"/>
<line x1="414.3" y1="283.9" x2="414.3" y2="291" stroke="#000" stroke-width="1.9"/>
<line x1="428.9" y1="288.2" x2="428.9" y2="293.5" stroke="#000" stroke-width="1.9"/>
<line x1="443.2" y1="292" x2="443.2" y2="298.6" stroke="#000" stroke-width="1.9"/>
<circle cx="398.6" cy="257.4" r="0.95" fill="#2a2a3a"/>
<circle cx="398.6" cy="264.6" r="0.95" fill="#2a2a3a"/>
<circle cx="401" cy="278.8" r="0.95" fill="#2a2a3a"/>
<circle cx="398.6" cy="283.1" r="0.95" fill="#2a2a3a"/>
<circle cx="412" cy="278.8" r="0.95" fill="#2a2a3a"/>
<circle cx="414.9" cy="280.6" r="0.95" fill="#2a2a3a"/>
<circle cx="414.9" cy="294.8" r="0.95" fill="#2a2a3a"/>
<circle cx="414.9" cy="296.7" r="0.95" fill="#2a2a3a"/>
<circle cx="428.9" cy="285.7" r="0.95" fill="#2a2a3a"/>
<circle cx="430.4" cy="287.6" r="0.95" fill="#2a2a3a"/>
<circle cx="428.9" cy="296.7" r="0.95" fill="#2a2a3a"/>
<circle cx="443.2" cy="288.2" r="0.95" fill="#2a2a3a"/>
<circle cx="443.2" cy="304.3" r="0.95" fill="#2a2a3a"/>
<circle cx="445.1" cy="299" r="0.95" fill="#2a2a3a"/>
<path d="M391.6,214.1 L391.6,336.3 L451.3,336.3" fill="none" stroke="#000" stroke-width="1.1"/>
<line x1="387.40000000000003" y1="325.80" x2="391.6" y2="325.80" stroke="#000" stroke-width="1.1"/>
<text x="381.4" y="329.50" font-family='"Liberation Sans", sans-serif' font-size="9.6" text-anchor="end" font-weight="normal" font-style="normal" fill="#000" stroke="#000" >0.80</text>
<line x1="387.40000000000003" y1="304.24" x2="391.6" y2="304.24" stroke="#000" stroke-width="1.1"/>
<text x="381.4" y="307.92" font-family='"Liberation Sans", sans-serif' font-size="9.6" text-anchor="end" font-weight="normal" font-style="normal" fill="#000" stroke="#000" >0.82</text>
<line x1="387.40000000000003" y1="282.68" x2="391.6" y2="282.68" stroke="#000" stroke-width="1.1"/>
<text x="381.4" y="286.34" font-family='"Liberation Sans", sans-serif' font-size="9.6" text-anchor="end" font-weight="normal" font-style="normal" fill="#000" stroke="#000" >0.84</text>
<line x1="387.40000000000003" y1="261.12" x2="391.6" y2="261.12" stroke="#000" stroke-width="1.1"/>
<text x="381.4" y="264.76" font-family='"Liberation Sans", sans-serif' font-size="9.6" text-anchor="end" font-weight="normal" font-style="normal" fill="#000" stroke="#000" >0.86</text>
<line x1="387.40000000000003" y1="239.56" x2="391.6" y2="239.56" stroke="#000" stroke-width="1.1"/>
<text x="381.4" y="243.18" font-family='"Liberation Sans", sans-serif' font-size="9.6" text-anchor="end" font-weight="normal" font-style="normal" fill="#000" stroke="#000" >0.88</text>
<line x1="387.40000000000003" y1="218.00" x2="391.6" y2="218.00" stroke="#000" stroke-width="1.1"/>
<text x="381.4" y="221.60" font-family='"Liberation Sans", sans-serif' font-size="9.6" text-anchor="end" font-weight="normal" font-style="normal" fill="#000" stroke="#000" >0.90</text>
<text transform="translate(358.2,274.7) rotate(-90)" font-family='"Liberation Sans", sans-serif' font-size="11.5" text-anchor="middle" fill="#000">Symbolic Accuracy</text>
<rect x="499.8" y="240.40" width="11.90" height="95.10" fill="#f8766d"/>
<rect x="514" y="260.18" width="11.80" height="75.32" fill="#7cae00"/>
<rect x="528.6" y="257.70" width="11.60" height="77.80" fill="#00bfc4"/>
<rect x="542.8" y="270.24" width="11.90" height="65.26" fill="#c77cff"/>
<line x1="506" y1="236" x2="506" y2="245.4" stroke="#000" stroke-width="1.9"/>
<line x1="520.2" y1="253.6" x2="520.2" y2="267.2" stroke="#000" stroke-width="1.9"/>
<line x1="534.3" y1="253.9" x2="534.3" y2="260.2" stroke="#000" stroke-width="1.9"/>
<line x1="548.8" y1="267.2" x2="548.8" y2="272.9" stroke="#000" stroke-width="1.9"/>
<circle cx="506" cy="225.6" r="0.95" fill="#2a2a3a"/>
<circle cx="506" cy="251.7" r="0.95" fill="#2a2a3a"/>
<circle cx="503.8" cy="241.7" r="0.95" fill="#2a2a3a"/>
<circle cx="508.3" cy="240.3" r="0.95" fill="#2a2a3a"/>
<circle cx="518.7" cy="243.7" r="0.95" fill="#2a2a3a"/>
<circle cx="520.7" cy="251.1" r="0.95" fill="#2a2a3a"/>
<circle cx="520.7" cy="279.4" r="0.95" fill="#2a2a3a"/>
<circle cx="519.6" cy="269.2" r="0.95" fill="#2a2a3a"/>
<circle cx="535.2" cy="253.1" r="0.95" fill="#2a2a3a"/>
<circle cx="535.2" cy="263" r="0.95" fill="#2a2a3a"/>
<circle cx="549.3" cy="262.1" r="0.95" fill="#2a2a3a"/>
<circle cx="546.2" cy="269.2" r="0.95" fill="#2a2a3a"/>
<circle cx="549.3" cy="275.7" r="0.95" fill="#2a2a3a"/>
<path d="M497.6,216.4 L497.6,335.5 L556.4,335.5" fill="none" stroke="#000" stroke-width="1.1"/>
<line x1="493.40000000000003" y1="324.80" x2="497.6" y2="324.80" stroke="#000" stroke-width="1.1"/>
<text x="489.3" y="330.50" font-family='"Liberation Sans", sans-serif' font-size="9.6" text-anchor="end" font-weight="normal" font-style="normal" fill="#000" stroke="#000" >0.80</text>
<line x1="493.40000000000003" y1="303.22" x2="497.6" y2="303.22" stroke="#000" stroke-width="1.1"/>
<text x="489.3" y="308.56" font-family='"Liberation Sans", sans-serif' font-size="9.6" text-anchor="end" font-weight="normal" font-style="normal" fill="#000" stroke="#000" >0.82</text>
<line x1="493.40000000000003" y1="281.64" x2="497.6" y2="281.64" stroke="#000" stroke-width="1.1"/>
<text x="489.3" y="286.62" font-family='"Liberation Sans", sans-serif' font-size="9.6" text-anchor="end" font-weight="normal" font-style="normal" fill="#000" stroke="#000" >0.84</text>
<line x1="493.40000000000003" y1="260.06" x2="497.6" y2="260.06" stroke="#000" stroke-width="1.1"/>
<text x="489.3" y="264.68" font-family='"Liberation Sans", sans-serif' font-size="9.6" text-anchor="end" font-weight="normal" font-style="normal" fill="#000" stroke="#000" >0.86</text>
<line x1="493.40000000000003" y1="238.48" x2="497.6" y2="238.48" stroke="#000" stroke-width="1.1"/>
<text x="489.3" y="242.74" font-family='"Liberation Sans", sans-serif' font-size="9.6" text-anchor="end" font-weight="normal" font-style="normal" fill="#000" stroke="#000" >0.88</text>
<line x1="493.40000000000003" y1="216.90" x2="497.6" y2="216.90" stroke="#000" stroke-width="1.1"/>
<text x="489.3" y="220.80" font-family='"Liberation Sans", sans-serif' font-size="9.6" text-anchor="end" font-weight="normal" font-style="normal" fill="#000" stroke="#000" >0.90</text>
<text transform="translate(465.3,271.6) rotate(-90)" font-family='"Liberation Sans", sans-serif' font-size="11.5" text-anchor="middle" fill="#000">Avg.Acc.(R<tspan font-size="7.5" dy="-4">2</tspan><tspan dy="4">&gt;0.99)</tspan></text>
<rect x="563.5" y="211.0" width="17.6" height="4.8" fill="#f8766d"/>
<text x="586.2" y="216.4" font-family='"Liberation Sans", sans-serif' font-size="11.5" text-anchor="start" font-weight="normal" font-style="normal" fill="#000" stroke="#000" >Multi Pattern</text>
<text x="586.2" y="231.9" font-family='"Liberation Sans", sans-serif' font-size="11.5" text-anchor="start" font-weight="normal" font-style="normal" fill="#000" stroke="#000" >Adaptive Threshold</text>
<rect x="563.5" y="245.2" width="17.6" height="4.8" fill="#7cae00"/>
<text x="586.2" y="251.2" font-family='"Liberation Sans", sans-serif' font-size="11.5" text-anchor="start" font-weight="normal" font-style="normal" fill="#000" stroke="#000" >Single Pattern</text>
<text x="586.2" y="266.6" font-family='"Liberation Sans", sans-serif' font-size="11.5" text-anchor="start" font-weight="normal" font-style="normal" fill="#000" stroke="#000" >Adaptive Threshold</text>
<rect x="563.5" y="279.3" width="17.6" height="4.8" fill="#00bfc4"/>
<text x="586.2" y="285.8" font-family='"Liberation Sans", sans-serif' font-size="11.5" text-anchor="start" font-weight="normal" font-style="normal" fill="#000" stroke="#000" >Multi Pattern</text>
<text x="586.2" y="301.4" font-family='"Liberation Sans", sans-serif' font-size="11.5" text-anchor="start" font-weight="normal" font-style="normal" fill="#000" stroke="#000" >Fixed Threshold</text>
<rect x="563.5" y="314.0" width="17.6" height="4.8" fill="#c77cff"/>
<text x="586.2" y="320.7" font-family='"Liberation Sans", sans-serif' font-size="11.5" text-anchor="start" font-weight="normal" font-style="normal" fill="#000" stroke="#000" >Singlae Pattern</text>
<text x="586.2" y="336.4" font-family='"Liberation Sans", sans-serif' font-size="11.5" text-anchor="start" font-weight="normal" font-style="normal" fill="#000" stroke="#000" >Fixed Threshold</text>
<path d="M61.5,359.8 L61.5,497.2 L240.8,497.2" fill="none" stroke="#000" stroke-width="1.1"/>
<line x1="57.4" y1="497.20" x2="61.5" y2="497.20" stroke="#000" stroke-width="1.1"/>
<text x="55.8" y="500.4" font-family='"Liberation Sans", sans-serif' font-size="10.0" text-anchor="end" font-weight="normal" font-style="normal" fill="#000" stroke="#000" >0.0</text>
<line x1="57.4" y1="470.52" x2="61.5" y2="470.52" stroke="#000" stroke-width="1.1"/>
<text x="55.8" y="473.71999999999997" font-family='"Liberation Sans", sans-serif' font-size="10.0" text-anchor="end" font-weight="normal" font-style="normal" fill="#000" stroke="#000" >0.2</text>
<line x1="57.4" y1="443.84" x2="61.5" y2="443.84" stroke="#000" stroke-width="1.1"/>
<text x="55.8" y="447.03999999999996" font-family='"Liberation Sans", sans-serif' font-size="10.0" text-anchor="end" font-weight="normal" font-style="normal" fill="#000" stroke="#000" >0.4</text>
<line x1="57.4" y1="417.16" x2="61.5" y2="417.16" stroke="#000" stroke-width="1.1"/>
<text x="55.8" y="420.35999999999996" font-family='"Liberation Sans", sans-serif' font-size="10.0" text-anchor="end" font-weight="normal" font-style="normal" fill="#000" stroke="#000" >0.6</text>
<line x1="57.4" y1="390.48" x2="61.5" y2="390.48" stroke="#000" stroke-width="1.1"/>
<text x="55.8" y="393.68" font-family='"Liberation Sans", sans-serif' font-size="10.0" text-anchor="end" font-weight="normal" font-style="normal" fill="#000" stroke="#000" >0.8</text>
<line x1="57.4" y1="363.80" x2="61.5" y2="363.80" stroke="#000" stroke-width="1.1"/>
<text x="55.8" y="367.0" font-family='"Liberation Sans", sans-serif' font-size="10.0" text-anchor="end" font-weight="normal" font-style="normal" fill="#000" stroke="#000" >1.0</text>
<line x1="69.7" y1="497.2" x2="69.7" y2="501.3" stroke="#000" stroke-width="1.1"/>
<text x="69.7" y="514.5" font-family='"Liberation Sans", sans-serif' font-size="13" text-anchor="middle" font-weight="normal" font-style="normal" fill="#000" stroke="#000" >5</text>
<line x1="118.8" y1="497.2" x2="118.8" y2="501.3" stroke="#000" stroke-width="1.1"/>
<text x="118.8" y="514.5" font-family='"Liberation Sans", sans-serif' font-size="13" text-anchor="middle" font-weight="normal" font-style="normal" fill="#000" stroke="#000" >10</text>
<line x1="183.5" y1="497.2" x2="183.5" y2="501.3" stroke="#000" stroke-width="1.1"/>
<text x="183.5" y="514.5" font-family='"Liberation Sans", sans-serif' font-size="13" text-anchor="middle" font-weight="normal" font-style="normal" fill="#000" stroke="#000" >25</text>
<line x1="232.5" y1="497.2" x2="232.5" y2="501.3" stroke="#000" stroke-width="1.1"/>
<text x="232.5" y="514.5" font-family='"Liberation Sans", sans-serif' font-size="13" text-anchor="middle" font-weight="normal" font-style="normal" fill="#000" stroke="#000" >50</text>
<polyline points="69.7,443.84 118.8,427.57 183.5,406.09 232.5,394.48" fill="none" stroke="#2878b5" stroke-width="1.3"/>
<line x1="69.7" y1="440.34" x2="69.7" y2="447.34" stroke="#2878b5" stroke-width="1.3"/>
<circle cx="69.7" cy="443.84" r="2" fill="#2878b5"/>
<line x1="118.8" y1="425.07" x2="118.8" y2="430.07" stroke="#2878b5" stroke-width="1.3"/>
<circle cx="118.8" cy="427.57" r="2" fill="#2878b5"/>
<line x1="183.5" y1="404.09" x2="183.5" y2="408.09" stroke="#2878b5" stroke-width="1.3"/>
<circle cx="183.5" cy="406.09" r="2" fill="#2878b5"/>
<line x1="232.5" y1="392.98" x2="232.5" y2="395.98" stroke="#2878b5" stroke-width="1.3"/>
<circle cx="232.5" cy="394.48" r="2" fill="#2878b5"/>
<polyline points="69.7,462.52 118.8,440.50 183.5,413.16 232.5,399.68" fill="none" stroke="#ff7f0e" stroke-width="1.3"/>
<line x1="69.7" y1="459.52" x2="69.7" y2="465.52" stroke="#ff7f0e" stroke-width="1.3"/>
<circle cx="69.7" cy="462.52" r="2" fill="#ff7f0e"/>
<line x1="118.8" y1="437.00" x2="118.8" y2="444.00" stroke="#ff7f0e" stroke-width="1.3"/>
<circle cx="118.8" cy="440.50" r="2" fill="#ff7f0e"/>
<line x1="183.5" y1="410.16" x2="183.5" y2="416.16" stroke="#ff7f0e" stroke-width="1.3"/>
<circle cx="183.5" cy="413.16" r="2" fill="#ff7f0e"/>
<line x1="232.5" y1="397.68" x2="232.5" y2="401.68" stroke="#ff7f0e" stroke-width="1.3"/>
<circle cx="232.5" cy="399.68" r="2" fill="#ff7f0e"/>
<polyline points="69.7,485.19 118.8,464.38 183.5,425.16 232.5,404.89" fill="none" stroke="#2ca02c" stroke-width="1.3"/>
<line x1="69.7" y1="481.69" x2="69.7" y2="488.69" stroke="#2ca02c" stroke-width="1.3"/>
<circle cx="69.7" cy="485.19" r="2" fill="#2ca02c"/>
<line x1="118.8" y1="461.38" x2="118.8" y2="467.38" stroke="#2ca02c" stroke-width="1.3"/>
<circle cx="118.8" cy="464.38" r="2" fill="#2ca02c"/>
<line x1="183.5" y1="423.16" x2="183.5" y2="427.16" stroke="#2ca02c" stroke-width="1.3"/>
<circle cx="183.5" cy="425.16" r="2" fill="#2ca02c"/>
<line x1="232.5" y1="402.89" x2="232.5" y2="406.89" stroke="#2ca02c" stroke-width="1.3"/>
<circle cx="232.5" cy="404.89" r="2" fill="#2ca02c"/>
<text transform="translate(36.4,430.3) rotate(-90)" font-family='"Liberation Sans", sans-serif' font-size="11.6" text-anchor="middle" fill="#000">Symbolic Accuracy</text>
<text x="153.7" y="526.8" font-family='"Liberation Sans", sans-serif' font-size="12.8" text-anchor="middle" font-weight="normal" font-style="normal" fill="#000" stroke="#000" >Number of input pairs</text>
<path d="M286.9,358.2 L286.9,495.6 L467.4,495.6" fill="none" stroke="#000" stroke-width="1.1"/>
<line x1="282.79999999999995" y1="495.60" x2="286.9" y2="495.60" stroke="#000" stroke-width="1.1"/>
<text x="281" y="498.8" font-family='"Liberation Sans", sans-serif' font-size="10.0" text-anchor="end" font-weight="normal" font-style="normal" fill="#000" stroke="#000" >0.0</text>
<line x1="282.79999999999995" y1="468.92" x2="286.9" y2="468.92" stroke="#000" stroke-width="1.1"/>
<text x="281" y="472.12" font-family='"Liberation Sans", sans-serif' font-size="10.0" text-anchor="end" font-weight="normal" font-style="normal" fill="#000" stroke="#000" >0.2</text>
<line x1="282.79999999999995" y1="442.24" x2="286.9" y2="442.24" stroke="#000" stroke-width="1.1"/>
<text x="281" y="445.44" font-family='"Liberation Sans", sans-serif' font-size="10.0" text-anchor="end" font-weight="normal" font-style="normal" fill="#000" stroke="#000" >0.4</text>
<line x1="282.79999999999995" y1="415.56" x2="286.9" y2="415.56" stroke="#000" stroke-width="1.1"/>
<text x="281" y="418.76" font-family='"Liberation Sans", sans-serif' font-size="10.0" text-anchor="end" font-weight="normal" font-style="normal" fill="#000" stroke="#000" >0.6</text>
<line x1="282.79999999999995" y1="388.88" x2="286.9" y2="388.88" stroke="#000" stroke-width="1.1"/>
<text x="281" y="392.08" font-family='"Liberation Sans", sans-serif' font-size="10.0" text-anchor="end" font-weight="normal" font-style="normal" fill="#000" stroke="#000" >0.8</text>
<line x1="282.79999999999995" y1="362.20" x2="286.9" y2="362.20" stroke="#000" stroke-width="1.1"/>
<text x="281" y="365.4" font-family='"Liberation Sans", sans-serif' font-size="10.0" text-anchor="end" font-weight="normal" font-style="normal" fill="#000" stroke="#000" >1.0</text>
<line x1="295.2" y1="495.6" x2="295.2" y2="499.70000000000005" stroke="#000" stroke-width="1.1"/>
<text x="295.2" y="511.6" font-family='"Liberation Sans", sans-serif' font-size="13" text-anchor="middle" font-weight="normal" font-style="normal" fill="#000" stroke="#000" >5</text>
<line x1="344.2" y1="495.6" x2="344.2" y2="499.70000000000005" stroke="#000" stroke-width="1.1"/>
<text x="344.2" y="511.6" font-family='"Liberation Sans", sans-serif' font-size="13" text-anchor="middle" font-weight="normal" font-style="normal" fill="#000" stroke="#000" >10</text>
<line x1="409.5" y1="495.6" x2="409.5" y2="499.70000000000005" stroke="#000" stroke-width="1.1"/>
<text x="409.5" y="511.6" font-family='"Liberation Sans", sans-serif' font-size="13" text-anchor="middle" font-weight="normal" font-style="normal" fill="#000" stroke="#000" >25</text>
<line x1="458.2" y1="495.6" x2="458.2" y2="499.70000000000005" stroke="#000" stroke-width="1.1"/>
<text x="458.2" y="511.6" font-family='"Liberation Sans", sans-serif' font-size="13" text-anchor="middle" font-weight="normal" font-style="normal" fill="#000" stroke="#000" >50</text>
<polyline points="295.2,441.57 344.2,423.96 409.5,402.22 458.2,389.81" fill="none" stroke="#2878b5" stroke-width="1.3"/>
<line x1="295.2" y1="438.57" x2="295.2" y2="444.57" stroke="#2878b5" stroke-width="1.3"/>
<circle cx="295.2" cy="441.57" r="2" fill="#2878b5"/>
<line x1="344.2" y1="421.46" x2="344.2" y2="426.46" stroke="#2878b5" stroke-width="1.3"/>
<circle cx="344.2" cy="423.96" r="2" fill="#2878b5"/>
<line x1="409.5" y1="400.22" x2="409.5" y2="404.22" stroke="#2878b5" stroke-width="1.3"/>
<circle cx="409.5" cy="402.22" r="2" fill="#2878b5"/>
<line x1="458.2" y1="388.31" x2="458.2" y2="391.31" stroke="#2878b5" stroke-width="1.3"/>
<circle cx="458.2" cy="389.81" r="2" fill="#2878b5"/>
<polyline points="295.2,459.58 344.2,436.50 409.5,408.49 458.2,392.88" fill="none" stroke="#ff7f0e" stroke-width="1.3"/>
<line x1="295.2" y1="457.08" x2="295.2" y2="462.08" stroke="#ff7f0e" stroke-width="1.3"/>
<circle cx="295.2" cy="459.58" r="2" fill="#ff7f0e"/>
<line x1="344.2" y1="432.50" x2="344.2" y2="440.50" stroke="#ff7f0e" stroke-width="1.3"/>
<circle cx="344.2" cy="436.50" r="2" fill="#ff7f0e"/>
<line x1="409.5" y1="405.99" x2="409.5" y2="410.99" stroke="#ff7f0e" stroke-width="1.3"/>
<circle cx="409.5" cy="408.49" r="2" fill="#ff7f0e"/>
<line x1="458.2" y1="390.88" x2="458.2" y2="394.88" stroke="#ff7f0e" stroke-width="1.3"/>
<circle cx="458.2" cy="392.88" r="2" fill="#ff7f0e"/>
<polyline points="295.2,482.39 344.2,460.52 409.5,420.90 458.2,397.55" fill="none" stroke="#2ca02c" stroke-width="1.3"/>
<line x1="295.2" y1="479.39" x2="295.2" y2="485.39" stroke="#2ca02c" stroke-width="1.3"/>
<circle cx="295.2" cy="482.39" r="2" fill="#2ca02c"/>
<line x1="344.2" y1="457.02" x2="344.2" y2="464.02" stroke="#2ca02c" stroke-width="1.3"/>
<circle cx="344.2" cy="460.52" r="2" fill="#2ca02c"/>
<line x1="409.5" y1="418.90" x2="409.5" y2="422.90" stroke="#2ca02c" stroke-width="1.3"/>
<circle cx="409.5" cy="420.90" r="2" fill="#2ca02c"/>
<line x1="458.2" y1="395.55" x2="458.2" y2="399.55" stroke="#2ca02c" stroke-width="1.3"/>
<circle cx="458.2" cy="397.55" r="2" fill="#2ca02c"/>
<text transform="translate(262.7,429.4) rotate(-90)" font-family='"Liberation Sans", sans-serif' font-size="11.6" text-anchor="middle" fill="#000">Avg.Acc.(R<tspan font-size="7.5" dy="-4">2</tspan><tspan dy="4">&gt;0.99)</tspan></text>
<text x="379.7" y="523.5" font-family='"Liberation Sans", sans-serif' font-size="12.8" text-anchor="middle" font-weight="normal" font-style="normal" fill="#000" stroke="#000" >Number of input pairs</text>
<path d="M504.3,360.3 L504.3,497.8 L683.8,497.8" fill="none" stroke="#000" stroke-width="1.1"/>
<line x1="500.2" y1="497.80" x2="504.3" y2="497.80" stroke="#000" stroke-width="1.1"/>
<text x="498.2" y="501.0" font-family='"Liberation Sans", sans-serif' font-size="10.0" text-anchor="end" font-weight="normal" font-style="normal" fill="#000" stroke="#000" >0.0</text>
<line x1="500.2" y1="471.10" x2="504.3" y2="471.10" stroke="#000" stroke-width="1.1"/>
<text x="498.2" y="474.3" font-family='"Liberation Sans", sans-serif' font-size="10.0" text-anchor="end" font-weight="normal" font-style="normal" fill="#000" stroke="#000" >0.2</text>
<line x1="500.2" y1="444.40" x2="504.3" y2="444.40" stroke="#000" stroke-width="1.1"/>
<text x="498.2" y="447.59999999999997" font-family='"Liberation Sans", sans-serif' font-size="10.0" text-anchor="end" font-weight="normal" font-style="normal" fill="#000" stroke="#000" >0.4</text>
<line x1="500.2" y1="417.70" x2="504.3" y2="417.70" stroke="#000" stroke-width="1.1"/>
<text x="498.2" y="420.9" font-family='"Liberation Sans", sans-serif' font-size="10.0" text-anchor="end" font-weight="normal" font-style="normal" fill="#000" stroke="#000" >0.6</text>
<line x1="500.2" y1="391.00" x2="504.3" y2="391.00" stroke="#000" stroke-width="1.1"/>
<text x="498.2" y="394.2" font-family='"Liberation Sans", sans-serif' font-size="10.0" text-anchor="end" font-weight="normal" font-style="normal" fill="#000" stroke="#000" >0.8</text>
<line x1="500.2" y1="364.30" x2="504.3" y2="364.30" stroke="#000" stroke-width="1.1"/>
<text x="498.2" y="367.5" font-family='"Liberation Sans", sans-serif' font-size="10.0" text-anchor="end" font-weight="normal" font-style="normal" fill="#000" stroke="#000" >1.0</text>
<line x1="512.5" y1="497.8" x2="512.5" y2="501.90000000000003" stroke="#000" stroke-width="1.1"/>
<text x="512.5" y="513.3" font-family='"Liberation Sans", sans-serif' font-size="13" text-anchor="middle" font-weight="normal" font-style="normal" fill="#000" stroke="#000" >5</text>
<line x1="561.8" y1="497.8" x2="561.8" y2="501.90000000000003" stroke="#000" stroke-width="1.1"/>
<text x="561.8" y="513.3" font-family='"Liberation Sans", sans-serif' font-size="13" text-anchor="middle" font-weight="normal" font-style="normal" fill="#000" stroke="#000" >10</text>
<line x1="626.8" y1="497.8" x2="626.8" y2="501.90000000000003" stroke="#000" stroke-width="1.1"/>
<text x="626.8" y="513.3" font-family='"Liberation Sans", sans-serif' font-size="13" text-anchor="middle" font-weight="normal" font-style="normal" fill="#000" stroke="#000" >25</text>
<line x1="675.5" y1="497.8" x2="675.5" y2="501.90000000000003" stroke="#000" stroke-width="1.1"/>
<text x="675.5" y="513.3" font-family='"Liberation Sans", sans-serif' font-size="13" text-anchor="middle" font-weight="normal" font-style="normal" fill="#000" stroke="#000" >50</text>
<polyline points="512.5,384.59 561.8,375.25 626.8,367.90 675.5,365.63" fill="none" stroke="#2878b5" stroke-width="1.3"/>
<line x1="512.5" y1="381.59" x2="512.5" y2="387.59" stroke="#2878b5" stroke-width="1.3"/>
<circle cx="512.5" cy="384.59" r="2" fill="#2878b5"/>
<line x1="561.8" y1="372.25" x2="561.8" y2="378.25" stroke="#2878b5" stroke-width="1.3"/>
<circle cx="561.8" cy="375.25" r="2" fill="#2878b5"/>
<line x1="626.8" y1="366.40" x2="626.8" y2="369.40" stroke="#2878b5" stroke-width="1.3"/>
<circle cx="626.8" cy="367.90" r="2" fill="#2878b5"/>
<line x1="675.5" y1="364.13" x2="675.5" y2="367.13" stroke="#2878b5" stroke-width="1.3"/>
<circle cx="675.5" cy="365.63" r="2" fill="#2878b5"/>
<polyline points="512.5,419.44 561.8,400.88 626.8,380.32 675.5,371.78" fill="none" stroke="#ff7f0e" stroke-width="1.3"/>
<line x1="512.5" y1="416.44" x2="512.5" y2="422.44" stroke="#ff7f0e" stroke-width="1.3"/>
<circle cx="512.5" cy="419.44" r="2" fill="#ff7f0e"/>
<line x1="561.8" y1="398.88" x2="561.8" y2="402.88" stroke="#ff7f0e" stroke-width="1.3"/>
<circle cx="561.8" cy="400.88" r="2" fill="#ff7f0e"/>
<line x1="626.8" y1="377.32" x2="626.8" y2="383.32" stroke="#ff7f0e" stroke-width="1.3"/>
<circle cx="626.8" cy="380.32" r="2" fill="#ff7f0e"/>
<line x1="675.5" y1="369.28" x2="675.5" y2="374.28" stroke="#ff7f0e" stroke-width="1.3"/>
<circle cx="675.5" cy="371.78" r="2" fill="#ff7f0e"/>
<polyline points="512.5,460.42 561.8,441.73 626.8,403.01 675.5,381.92" fill="none" stroke="#2ca02c" stroke-width="1.3"/>
<line x1="512.5" y1="455.92" x2="512.5" y2="464.92" stroke="#2ca02c" stroke-width="1.3"/>
<circle cx="512.5" cy="460.42" r="2" fill="#2ca02c"/>
<line x1="561.8" y1="437.23" x2="561.8" y2="446.23" stroke="#2ca02c" stroke-width="1.3"/>
<circle cx="561.8" cy="441.73" r="2" fill="#2ca02c"/>
<line x1="626.8" y1="400.01" x2="626.8" y2="406.01" stroke="#2ca02c" stroke-width="1.3"/>
<circle cx="626.8" cy="403.01" r="2" fill="#2ca02c"/>
<line x1="675.5" y1="380.42" x2="675.5" y2="383.42" stroke="#2ca02c" stroke-width="1.3"/>
<circle cx="675.5" cy="381.92" r="2" fill="#2ca02c"/>
<text transform="translate(481.8,429) rotate(-90)" font-family='"Liberation Sans", sans-serif' font-size="11.6" text-anchor="middle" fill="#000">Unit Accuracy</text>
<text x="596.2" y="525.2" font-family='"Liberation Sans", sans-serif' font-size="12.8" text-anchor="middle" font-weight="normal" font-style="normal" fill="#000" stroke="#000" >Number of input pairs</text>
<line x1="72" y1="348.2" x2="87" y2="348.2" stroke="#2878b5" stroke-width="2"/>
<text x="91.6" y="352.0" font-family='"Liberation Sans", sans-serif' font-size="11.55" text-anchor="start" font-weight="normal" font-style="normal" fill="#000" stroke="#000" >Standard PhyE2E</text>
<line x1="72" y1="362.8" x2="87" y2="362.8" stroke="#ff7f0e" stroke-width="2"/>
<text x="91.6" y="366.6" font-family='"Liberation Sans", sans-serif' font-size="11.55" text-anchor="start" font-weight="normal" font-style="normal" fill="#000" stroke="#000" >PhyE2E w.o. units decoding</text>
<line x1="72" y1="375.7" x2="87" y2="375.7" stroke="#2ca02c" stroke-width="2"/>
<text x="91.6" y="379.5" font-family='"Liberation Sans", sans-serif' font-size="11.55" text-anchor="start" font-weight="normal" font-style="normal" fill="#000" stroke="#000" >PhyE2E w.o. units decoding</text>
<text x="232.8" y="390.3" font-family='"Liberation Sans", sans-serif' font-size="11.55" text-anchor="end" font-weight="normal" font-style="normal" fill="#000" stroke="#000" >and physical priors</text>
</svg></body></html>
